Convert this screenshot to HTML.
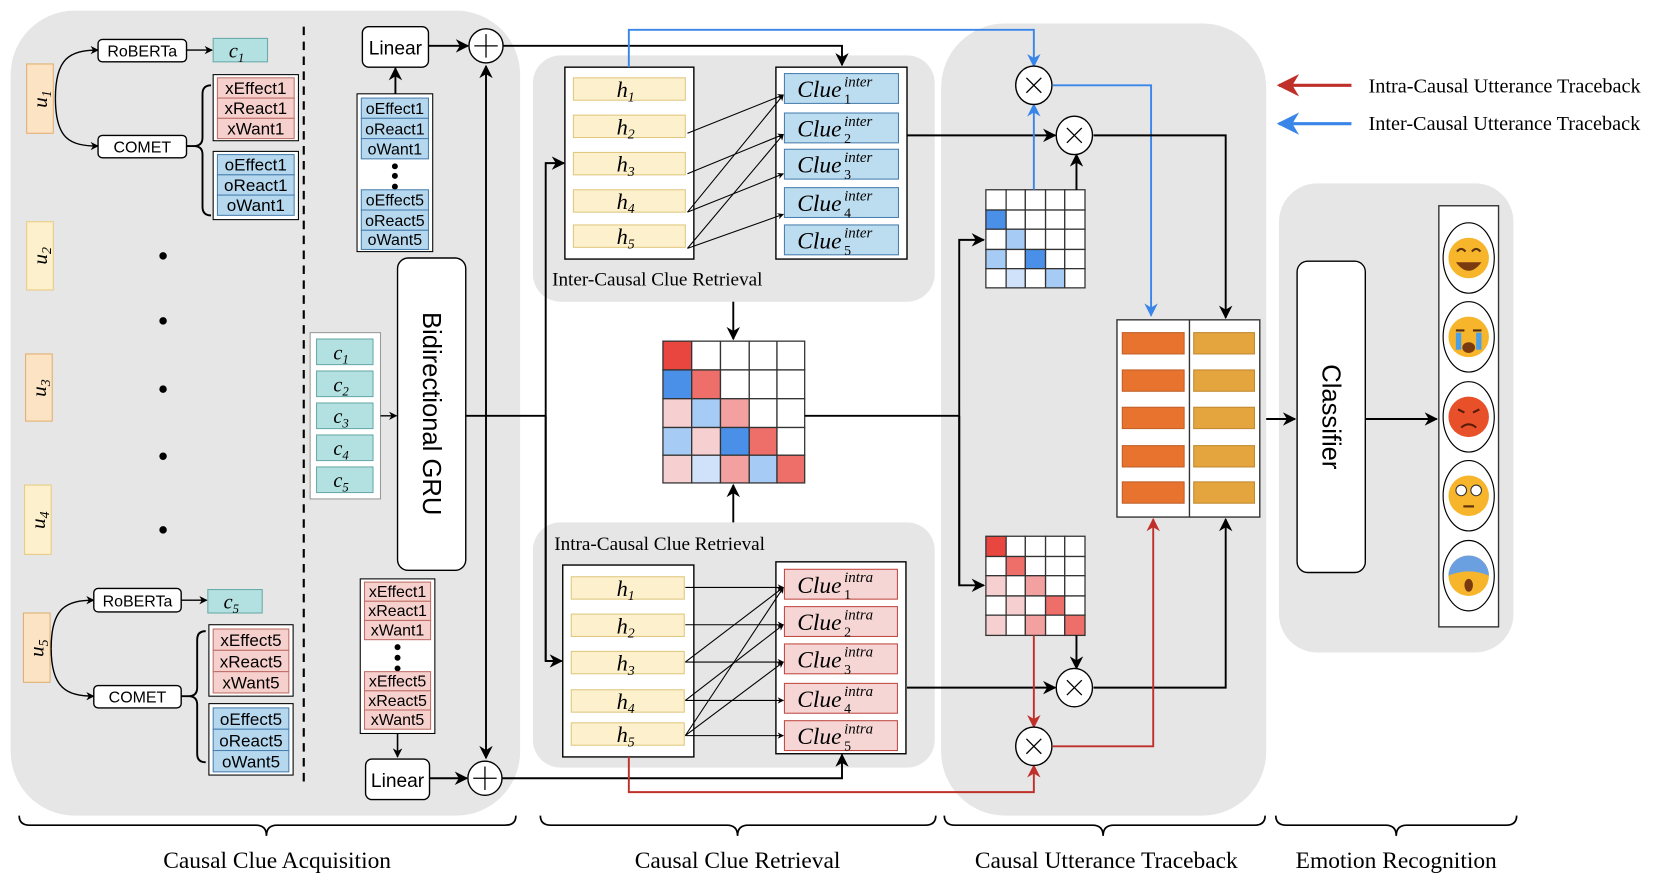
<!DOCTYPE html>
<html><head><meta charset="utf-8"><style>
html,body{margin:0;padding:0;background:#fff;}
svg{display:block;}
.s{font-family:"Liberation Sans",sans-serif;}
.r{font-family:"Liberation Serif",serif;}
</style></head><body>
<svg width="1668" height="887" viewBox="0 0 1565 832" preserveAspectRatio="none" xmlns="http://www.w3.org/2000/svg">
<defs>
<marker id="ak" viewBox="0 0 10 10" refX="9" refY="5" markerWidth="7" markerHeight="7" orient="auto-start-reverse"><path d="M0,0 L10,5 L0,10 L3,5 z" fill="#000"/></marker>
<marker id="ab" viewBox="0 0 10 10" refX="9" refY="5" markerWidth="7" markerHeight="7" orient="auto-start-reverse"><path d="M0,0 L10,5 L0,10 L3,5 z" fill="#3a86e8"/></marker>
<marker id="ar" viewBox="0 0 10 10" refX="9" refY="5" markerWidth="7" markerHeight="7" orient="auto-start-reverse"><path d="M0,0 L10,5 L0,10 L3,5 z" fill="#c0302a"/></marker>
<marker id="as" viewBox="0 0 10 10" refX="9" refY="5" markerWidth="6" markerHeight="6" orient="auto"><path d="M0,0 L10,5 L0,10 L3,5 z" fill="#000"/></marker>
</defs>

<rect x="10" y="10" width="478" height="755" rx="60" fill="#e6e6e6"/>
<rect x="883" y="22" width="305" height="743" rx="60" fill="#e6e6e6"/>
<rect x="500" y="52" width="377" height="231" rx="26" fill="#e6e6e6"/>
<rect x="500" y="490" width="377" height="230" rx="26" fill="#e6e6e6"/>
<rect x="1200" y="172" width="220" height="440" rx="36" fill="#e6e6e6"/>

<line x1="285" y1="25" x2="285" y2="735" stroke="#000" stroke-width="2" stroke-dasharray="8,6"/>

<g class="r" font-style="italic" font-size="20">
<rect x="25" y="60" width="25" height="65" fill="#fbe3c4" stroke="#e0b070"/>
<text transform="translate(44,93) rotate(-90)" text-anchor="middle">u<tspan font-size="13" dy="4">1</tspan></text>
<rect x="25" y="208" width="25" height="64" fill="#fdf0cc" stroke="#e8cc80"/>
<text transform="translate(44,240) rotate(-90)" text-anchor="middle">u<tspan font-size="13" dy="4">2</tspan></text>
<rect x="24" y="332" width="25" height="63" fill="#fbe3c4" stroke="#e0b070"/>
<text transform="translate(43,364) rotate(-90)" text-anchor="middle">u<tspan font-size="13" dy="4">3</tspan></text>
<rect x="23" y="455" width="25" height="65" fill="#fdf0cc" stroke="#e8cc80"/>
<text transform="translate(42,488) rotate(-90)" text-anchor="middle">u<tspan font-size="13" dy="4">4</tspan></text>
<rect x="22" y="575" width="25" height="65" fill="#fbe3c4" stroke="#e0b070"/>
<text transform="translate(41,608) rotate(-90)" text-anchor="middle">u<tspan font-size="13" dy="4">5</tspan></text>
</g>

<path d="M52,92 C52,55 65,47 92,47" fill="none" stroke="#000" stroke-width="1.3" marker-end="url(#as)"/>
<path d="M52,92 C52,130 65,137 92,137" fill="none" stroke="#000" stroke-width="1.3" marker-end="url(#as)"/>
<rect x="92" y="37" width="83" height="21" rx="4" fill="#fff" stroke="#000" stroke-width="1.3"/>
<text x="133.5" y="53" class="s" font-size="15" text-anchor="middle">RoBERTa</text>
<line x1="175" y1="47" x2="199" y2="47" stroke="#000" stroke-width="1.3" marker-end="url(#as)"/>
<rect x="200" y="36" width="51" height="22" fill="#b3e0e0" stroke="#6aaaaa"/>
<text x="222" y="54" class="r" font-style="italic" font-size="19" text-anchor="middle">c<tspan font-size="12" dy="4">1</tspan></text>
<rect x="92" y="127" width="83" height="21" rx="4" fill="#fff" stroke="#000" stroke-width="1.3"/>
<text x="133.5" y="143" class="s" font-size="15" text-anchor="middle">COMET</text>
<path d="M175,137 L182,137 Q190,137 190,129 L190,88 Q190,80 198,80 M182,137 Q190,137 190,145 L190,194 Q190,202 198,202" fill="none" stroke="#000" stroke-width="1.8"/>
<g class="s" font-size="16" text-anchor="middle">
<rect x="200" y="70" width="80" height="62" fill="#fff" stroke="#000"/>
<rect x="204" y="73" width="72" height="19" fill="#f6d0cc" stroke="#c0706a"/><text x="240" y="88">xEffect1</text>
<rect x="204" y="92" width="72" height="19" fill="#f6d0cc" stroke="#c0706a"/><text x="240" y="107">xReact1</text>
<rect x="204" y="111" width="72" height="19" fill="#f6d0cc" stroke="#c0706a"/><text x="240" y="126">xWant1</text>
<rect x="200" y="142" width="80" height="64" fill="#fff" stroke="#000"/>
<rect x="204" y="145" width="72" height="19" fill="#b6d8ef" stroke="#4a80b0"/><text x="240" y="160">oEffect1</text>
<rect x="204" y="164" width="72" height="19" fill="#b6d8ef" stroke="#4a80b0"/><text x="240" y="179">oReact1</text>
<rect x="204" y="183" width="72" height="19" fill="#b6d8ef" stroke="#4a80b0"/><text x="240" y="198">oWant1</text>
</g>

<g fill="#000"><circle cx="153" cy="240" r="3.5"/><circle cx="153" cy="301" r="3.5"/><circle cx="153" cy="365" r="3.5"/><circle cx="153" cy="428" r="3.5"/><circle cx="153" cy="497" r="3.5"/></g>

<path d="M48,608 C48,570 62,563 88,563" fill="none" stroke="#000" stroke-width="1.3" marker-end="url(#as)"/>
<path d="M48,608 C48,645 62,653 88,653" fill="none" stroke="#000" stroke-width="1.3" marker-end="url(#as)"/>
<rect x="88" y="552" width="82" height="22" rx="4" fill="#fff" stroke="#000" stroke-width="1.3"/>
<text x="129" y="569" class="s" font-size="15" text-anchor="middle">RoBERTa</text>
<line x1="170" y1="563" x2="194" y2="563" stroke="#000" stroke-width="1.3" marker-end="url(#as)"/>
<rect x="195" y="553" width="51" height="22" fill="#b3e0e0" stroke="#6aaaaa"/>
<text x="217" y="571" class="r" font-style="italic" font-size="19" text-anchor="middle">c<tspan font-size="12" dy="4">5</tspan></text>
<rect x="88" y="643" width="82" height="21" rx="4" fill="#fff" stroke="#000" stroke-width="1.3"/>
<text x="129" y="659" class="s" font-size="15" text-anchor="middle">COMET</text>
<path d="M170,653 L177,653 Q185,653 185,645 L185,600 Q185,592 193,592 M177,653 Q185,653 185,661 L185,707 Q185,715 193,715" fill="none" stroke="#000" stroke-width="1.8"/>
<g class="s" font-size="16" text-anchor="middle">
<rect x="196" y="586" width="79" height="67" fill="#fff" stroke="#000"/>
<rect x="200" y="590" width="71" height="20" fill="#f6d0cc" stroke="#c0706a"/><text x="235.5" y="606">xEffect5</text>
<rect x="200" y="610" width="71" height="20" fill="#f6d0cc" stroke="#c0706a"/><text x="235.5" y="626">xReact5</text>
<rect x="200" y="630" width="71" height="20" fill="#f6d0cc" stroke="#c0706a"/><text x="235.5" y="646">xWant5</text>
<rect x="196" y="660" width="79" height="67" fill="#fff" stroke="#000"/>
<rect x="200" y="664" width="71" height="20" fill="#b6d8ef" stroke="#4a80b0"/><text x="235.5" y="680">oEffect5</text>
<rect x="200" y="684" width="71" height="20" fill="#b6d8ef" stroke="#4a80b0"/><text x="235.5" y="700">oReact5</text>
<rect x="200" y="704" width="71" height="20" fill="#b6d8ef" stroke="#4a80b0"/><text x="235.5" y="720">oWant5</text>
</g>

<rect x="340" y="25" width="62" height="38" rx="6" fill="#fff" stroke="#000" stroke-width="1.3"/>
<text x="371" y="51" class="s" font-size="18" text-anchor="middle">Linear</text>
<line x1="402" y1="43" x2="439" y2="43" stroke="#000" stroke-width="1.8" marker-end="url(#ak)"/>
<circle cx="456" cy="43" r="16" fill="#fff" stroke="#000" stroke-width="1.3"/>
<path d="M445,43 H467 M456,32 V54" stroke="#000" stroke-width="1.2"/>
<path d="M472,43 H790 V61" fill="none" stroke="#000" stroke-width="1.8" marker-end="url(#ak)"/>
<line x1="371" y1="88" x2="371" y2="64" stroke="#000" stroke-width="1.8" marker-end="url(#ak)"/>
<g class="s" font-size="15" text-anchor="middle">
<rect x="335" y="88" width="71" height="148" fill="#fff" stroke="#000"/>
<rect x="339" y="92" width="63" height="19" fill="#b6d8ef" stroke="#4a80b0"/><text x="370.5" y="107">oEffect1</text>
<rect x="339" y="111" width="63" height="19" fill="#b6d8ef" stroke="#4a80b0"/><text x="370.5" y="126">oReact1</text>
<rect x="339" y="130" width="63" height="19" fill="#b6d8ef" stroke="#4a80b0"/><text x="370.5" y="145">oWant1</text>
<circle cx="370.5" cy="156" r="2.8"/><circle cx="370.5" cy="165" r="2.8"/><circle cx="370.5" cy="175" r="2.8"/>
<rect x="339" y="178" width="63" height="19" fill="#b6d8ef" stroke="#4a80b0"/><text x="370.5" y="193">oEffect5</text>
<rect x="339" y="197" width="63" height="19" fill="#b6d8ef" stroke="#4a80b0"/><text x="370.5" y="212">oReact5</text>
<rect x="339" y="216" width="63" height="18" fill="#b6d8ef" stroke="#4a80b0"/><text x="370.5" y="230">oWant5</text>
</g>

<rect x="291" y="312" width="66" height="156" fill="#fff" stroke="#999"/>
<g class="r" font-style="italic" font-size="19" text-anchor="middle">
<rect x="297" y="318" width="53" height="24" fill="#b3e0e0" stroke="#6aaaaa"/><text x="320" y="337">c<tspan font-size="12" dy="4">1</tspan></text>
<rect x="297" y="348" width="53" height="24" fill="#b3e0e0" stroke="#6aaaaa"/><text x="320" y="367">c<tspan font-size="12" dy="4">2</tspan></text>
<rect x="297" y="378" width="53" height="24" fill="#b3e0e0" stroke="#6aaaaa"/><text x="320" y="397">c<tspan font-size="12" dy="4">3</tspan></text>
<rect x="297" y="408" width="53" height="24" fill="#b3e0e0" stroke="#6aaaaa"/><text x="320" y="427">c<tspan font-size="12" dy="4">4</tspan></text>
<rect x="297" y="438" width="53" height="24" fill="#b3e0e0" stroke="#6aaaaa"/><text x="320" y="457">c<tspan font-size="12" dy="4">5</tspan></text>
</g>
<line x1="357" y1="390" x2="372" y2="390" stroke="#000" stroke-width="1.3" marker-end="url(#as)"/>
<rect x="373" y="242" width="64" height="293" rx="10" fill="#fff" stroke="#000" stroke-width="1.3"/>
<text transform="translate(397,388) rotate(90)" class="s" font-size="24" text-anchor="middle">Bidirectional GRU</text>

<g class="s" font-size="15" text-anchor="middle">
<rect x="338" y="543" width="70" height="145" fill="#fff" stroke="#000"/>
<rect x="342" y="546" width="62" height="18" fill="#f6d0cc" stroke="#c0706a"/><text x="373" y="560">xEffect1</text>
<rect x="342" y="564" width="62" height="18" fill="#f6d0cc" stroke="#c0706a"/><text x="373" y="578">xReact1</text>
<rect x="342" y="582" width="62" height="18" fill="#f6d0cc" stroke="#c0706a"/><text x="373" y="596">xWant1</text>
<circle cx="373" cy="607" r="2.8"/><circle cx="373" cy="617" r="2.8"/><circle cx="373" cy="627" r="2.8"/>
<rect x="342" y="630" width="62" height="18" fill="#f6d0cc" stroke="#c0706a"/><text x="373" y="644">xEffect5</text>
<rect x="342" y="648" width="62" height="18" fill="#f6d0cc" stroke="#c0706a"/><text x="373" y="662">xReact5</text>
<rect x="342" y="666" width="62" height="18" fill="#f6d0cc" stroke="#c0706a"/><text x="373" y="680">xWant5</text>
</g>
<line x1="373" y1="688" x2="373" y2="710" stroke="#000" stroke-width="1.5" marker-end="url(#as)"/>
<rect x="343" y="712" width="60" height="38" rx="6" fill="#fff" stroke="#000" stroke-width="1.3"/>
<text x="373" y="738" class="s" font-size="18" text-anchor="middle">Linear</text>
<line x1="403" y1="730" x2="438" y2="730" stroke="#000" stroke-width="1.8" marker-end="url(#ak)"/>
<circle cx="455" cy="730" r="16" fill="#fff" stroke="#000" stroke-width="1.3"/>
<path d="M444,730 H466 M455,719 V741" stroke="#000" stroke-width="1.2"/>
<line x1="456" y1="62" x2="456" y2="711" stroke="#000" stroke-width="1.8" marker-start="url(#ak)" marker-end="url(#ak)"/>
<path d="M471,730 H790 V708" fill="none" stroke="#000" stroke-width="1.8" marker-end="url(#ak)"/>

<path d="M437,390 H512" stroke="#000" stroke-width="1.8" fill="none"/>
<path d="M512,620 V153 H529" stroke="#000" stroke-width="1.8" fill="none" marker-end="url(#ak)"/>
<path d="M512,390 V620 H527" stroke="#000" stroke-width="1.8" fill="none" marker-end="url(#ak)"/>

<rect x="530" y="63" width="121" height="180" fill="#fff" stroke="#000" stroke-width="1.3"/>
<g class="r" font-style="italic" font-size="21" text-anchor="middle">
<rect x="538" y="73" width="105" height="21" fill="#fdf0cc" stroke="#e0c880"/><text x="587" y="91">h<tspan font-size="13" dy="4">1</tspan></text>
<rect x="538" y="108" width="105" height="21" fill="#fdf0cc" stroke="#e0c880"/><text x="587" y="126">h<tspan font-size="13" dy="4">2</tspan></text>
<rect x="538" y="143" width="105" height="21" fill="#fdf0cc" stroke="#e0c880"/><text x="587" y="161">h<tspan font-size="13" dy="4">3</tspan></text>
<rect x="538" y="178" width="105" height="21" fill="#fdf0cc" stroke="#e0c880"/><text x="587" y="196">h<tspan font-size="13" dy="4">4</tspan></text>
<rect x="538" y="211" width="105" height="21" fill="#fdf0cc" stroke="#e0c880"/><text x="587" y="229">h<tspan font-size="13" dy="4">5</tspan></text>
</g>
<rect x="728" y="63" width="123" height="180" fill="#fff" stroke="#000" stroke-width="1.3"/>
<g fill="#bcdcef" stroke="#4a80b0">
<rect x="736" y="69" width="107" height="28"/><rect x="736" y="106" width="107" height="28"/><rect x="736" y="140" width="107" height="28"/><rect x="736" y="176" width="107" height="28"/><rect x="736" y="211" width="107" height="28"/>
</g>
<g class="r" font-style="italic" font-size="22">
<text x="748" y="91">Clue</text><text x="748" y="128">Clue</text><text x="748" y="162">Clue</text><text x="748" y="198">Clue</text><text x="748" y="233">Clue</text>
</g>
<g class="r" font-style="italic" font-size="14">
<text x="792" y="81">inter</text><text x="792" y="118">inter</text><text x="792" y="152">inter</text><text x="792" y="188">inter</text><text x="792" y="223">inter</text>
</g>
<g class="r" font-size="13">
<text x="792" y="97">1</text><text x="792" y="134">2</text><text x="792" y="168">3</text><text x="792" y="204">4</text><text x="792" y="239">5</text>
</g>
<g stroke="#000" stroke-width="1" marker-end="url(#as)">
<line x1="645" y1="125" x2="735" y2="89"/>
<line x1="645" y1="163" x2="735" y2="126"/>
<line x1="645" y1="199" x2="735" y2="89"/>
<line x1="645" y1="199" x2="735" y2="163"/>
<line x1="645" y1="233" x2="735" y2="126"/>
<line x1="645" y1="233" x2="735" y2="201"/>
</g>
<text x="518" y="268" class="r" font-size="18">Inter-Causal Clue Retrieval</text>

<text x="520" y="516" class="r" font-size="18">Intra-Causal Clue Retrieval</text>
<rect x="528" y="530" width="123" height="180" fill="#fff" stroke="#000" stroke-width="1.3"/>
<g class="r" font-style="italic" font-size="21" text-anchor="middle">
<rect x="536" y="541" width="106" height="21" fill="#fdf0cc" stroke="#e0c880"/><text x="587" y="559">h<tspan font-size="13" dy="4">1</tspan></text>
<rect x="536" y="576" width="106" height="21" fill="#fdf0cc" stroke="#e0c880"/><text x="587" y="594">h<tspan font-size="13" dy="4">2</tspan></text>
<rect x="536" y="611" width="106" height="21" fill="#fdf0cc" stroke="#e0c880"/><text x="587" y="629">h<tspan font-size="13" dy="4">3</tspan></text>
<rect x="536" y="647" width="106" height="21" fill="#fdf0cc" stroke="#e0c880"/><text x="587" y="665">h<tspan font-size="13" dy="4">4</tspan></text>
<rect x="536" y="678" width="106" height="21" fill="#fdf0cc" stroke="#e0c880"/><text x="587" y="696">h<tspan font-size="13" dy="4">5</tspan></text>
</g>
<rect x="728" y="527" width="122" height="180" fill="#fff" stroke="#000" stroke-width="1.3"/>
<g fill="#f6d6d4" stroke="#c04a44">
<rect x="736" y="534" width="106" height="28"/><rect x="736" y="569" width="106" height="28"/><rect x="736" y="604" width="106" height="28"/><rect x="736" y="641" width="106" height="28"/><rect x="736" y="676" width="106" height="28"/>
</g>
<g class="r" font-style="italic" font-size="22">
<text x="748" y="556">Clue</text><text x="748" y="591">Clue</text><text x="748" y="626">Clue</text><text x="748" y="663">Clue</text><text x="748" y="698">Clue</text>
</g>
<g class="r" font-style="italic" font-size="14">
<text x="792" y="546">intra</text><text x="792" y="581">intra</text><text x="792" y="616">intra</text><text x="792" y="653">intra</text><text x="792" y="688">intra</text>
</g>
<g class="r" font-size="13">
<text x="792" y="562">1</text><text x="792" y="597">2</text><text x="792" y="632">3</text><text x="792" y="669">4</text><text x="792" y="704">5</text>
</g>
<g stroke="#000" stroke-width="1" marker-end="url(#as)">
<line x1="643" y1="551" x2="735" y2="551"/>
<line x1="643" y1="586" x2="735" y2="586"/>
<line x1="643" y1="621" x2="735" y2="621"/>
<line x1="643" y1="657" x2="735" y2="657"/>
<line x1="643" y1="690" x2="735" y2="690"/>
<line x1="643" y1="621" x2="735" y2="551"/>
<line x1="643" y1="657" x2="735" y2="586"/>
<line x1="643" y1="690" x2="735" y2="551"/>
<line x1="643" y1="690" x2="735" y2="621"/>
</g>

<line x1="688" y1="283" x2="688" y2="318" stroke="#000" stroke-width="1.8" marker-end="url(#ak)"/>
<line x1="688" y1="490" x2="688" y2="455" stroke="#000" stroke-width="1.8" marker-end="url(#ak)"/>
<g stroke="#333" stroke-width="1.2">
<rect x="622" y="320" width="27" height="27" fill="#e8463e"/><rect x="649" y="320" width="27" height="27" fill="#fff"/><rect x="676" y="320" width="27" height="27" fill="#fff"/><rect x="703" y="320" width="26" height="27" fill="#fff"/><rect x="729" y="320" width="26" height="27" fill="#fff"/>
<rect x="622" y="347" width="27" height="27" fill="#4a90e8"/><rect x="649" y="347" width="27" height="27" fill="#ee6e6a"/><rect x="676" y="347" width="27" height="27" fill="#fff"/><rect x="703" y="347" width="26" height="27" fill="#fff"/><rect x="729" y="347" width="26" height="27" fill="#fff"/>
<rect x="622" y="374" width="27" height="27" fill="#f6cfd0"/><rect x="649" y="374" width="27" height="27" fill="#a6ccf5"/><rect x="676" y="374" width="27" height="27" fill="#f2a0a0"/><rect x="703" y="374" width="26" height="27" fill="#fff"/><rect x="729" y="374" width="26" height="27" fill="#fff"/>
<rect x="622" y="401" width="27" height="26" fill="#a6ccf5"/><rect x="649" y="401" width="27" height="26" fill="#f6cfd0"/><rect x="676" y="401" width="27" height="26" fill="#4a90e8"/><rect x="703" y="401" width="26" height="26" fill="#ee6e6a"/><rect x="729" y="401" width="26" height="26" fill="#fff"/>
<rect x="622" y="427" width="27" height="26" fill="#f6cfd0"/><rect x="649" y="427" width="27" height="26" fill="#cfe2fa"/><rect x="676" y="427" width="27" height="26" fill="#f2a0a0"/><rect x="703" y="427" width="26" height="26" fill="#a6ccf5"/><rect x="729" y="427" width="26" height="26" fill="#ee6e6a"/>
</g>
<line x1="755" y1="390" x2="900" y2="390" stroke="#000" stroke-width="1.8"/>
<path d="M900,549 V225 H923" fill="none" stroke="#000" stroke-width="1.8" marker-end="url(#ak)"/>
<path d="M900,390 V549 H923" fill="none" stroke="#000" stroke-width="1.8" marker-end="url(#ak)"/>

<path d="M590,63 V28 H970 V62" fill="none" stroke="#3a86e8" stroke-width="1.8" marker-end="url(#ab)"/>
<path d="M590,710 V743 H970 V718" fill="none" stroke="#c0302a" stroke-width="1.8" marker-end="url(#ar)"/>

<line x1="851" y1="127" x2="990" y2="127" stroke="#000" stroke-width="1.8" marker-end="url(#ak)"/>
<line x1="851" y1="645" x2="990" y2="645" stroke="#000" stroke-width="1.8" marker-end="url(#ak)"/>
<g stroke="#333" stroke-width="1.2">
<rect x="925" y="178" width="19" height="19" fill="#fff"/><rect x="944" y="178" width="18" height="19" fill="#fff"/><rect x="962" y="178" width="19" height="19" fill="#fff"/><rect x="981" y="178" width="18" height="19" fill="#fff"/><rect x="999" y="178" width="19" height="19" fill="#fff"/>
<rect x="925" y="197" width="19" height="18" fill="#4a90e8"/><rect x="944" y="197" width="18" height="18" fill="#fff"/><rect x="962" y="197" width="19" height="18" fill="#fff"/><rect x="981" y="197" width="18" height="18" fill="#fff"/><rect x="999" y="197" width="19" height="18" fill="#fff"/>
<rect x="925" y="215" width="19" height="19" fill="#fff"/><rect x="944" y="215" width="18" height="19" fill="#a6ccf5"/><rect x="962" y="215" width="19" height="19" fill="#fff"/><rect x="981" y="215" width="18" height="19" fill="#fff"/><rect x="999" y="215" width="19" height="19" fill="#fff"/>
<rect x="925" y="234" width="19" height="18" fill="#a6ccf5"/><rect x="944" y="234" width="18" height="18" fill="#fff"/><rect x="962" y="234" width="19" height="18" fill="#4a90e8"/><rect x="981" y="234" width="18" height="18" fill="#fff"/><rect x="999" y="234" width="19" height="18" fill="#fff"/>
<rect x="925" y="252" width="19" height="18" fill="#fff"/><rect x="944" y="252" width="18" height="18" fill="#cfe2fa"/><rect x="962" y="252" width="19" height="18" fill="#fff"/><rect x="981" y="252" width="18" height="18" fill="#a6ccf5"/><rect x="999" y="252" width="19" height="18" fill="#fff"/>
</g>
<g stroke="#333" stroke-width="1.2">
<rect x="925" y="503" width="19" height="19" fill="#e8463e"/><rect x="944" y="503" width="18" height="19" fill="#fff"/><rect x="962" y="503" width="19" height="19" fill="#fff"/><rect x="981" y="503" width="18" height="19" fill="#fff"/><rect x="999" y="503" width="19" height="19" fill="#fff"/>
<rect x="925" y="522" width="19" height="18" fill="#fff"/><rect x="944" y="522" width="18" height="18" fill="#ee6e6a"/><rect x="962" y="522" width="19" height="18" fill="#fff"/><rect x="981" y="522" width="18" height="18" fill="#fff"/><rect x="999" y="522" width="19" height="18" fill="#fff"/>
<rect x="925" y="540" width="19" height="19" fill="#f6cfd0"/><rect x="944" y="540" width="18" height="19" fill="#fff"/><rect x="962" y="540" width="19" height="19" fill="#f2a0a0"/><rect x="981" y="540" width="18" height="19" fill="#fff"/><rect x="999" y="540" width="19" height="19" fill="#fff"/>
<rect x="925" y="559" width="19" height="18" fill="#fff"/><rect x="944" y="559" width="18" height="18" fill="#f6cfd0"/><rect x="962" y="559" width="19" height="18" fill="#fff"/><rect x="981" y="559" width="18" height="18" fill="#ee6e6a"/><rect x="999" y="559" width="19" height="18" fill="#fff"/>
<rect x="925" y="577" width="19" height="19" fill="#f6cfd0"/><rect x="944" y="577" width="18" height="19" fill="#fff"/><rect x="962" y="577" width="19" height="19" fill="#f2a0a0"/><rect x="981" y="577" width="18" height="19" fill="#fff"/><rect x="999" y="577" width="19" height="19" fill="#ee6e6a"/>
</g>
<line x1="970" y1="178" x2="970" y2="98" stroke="#3a86e8" stroke-width="1.8" marker-end="url(#ab)"/>
<line x1="1010" y1="178" x2="1010" y2="145" stroke="#000" stroke-width="1.8" marker-end="url(#ak)"/>
<path d="M988,80 H1080 V296" fill="none" stroke="#3a86e8" stroke-width="1.8" marker-end="url(#ab)"/>
<path d="M1026,127 H1150 V298" fill="none" stroke="#000" stroke-width="1.8" marker-end="url(#ak)"/>
<line x1="1010" y1="596" x2="1010" y2="627" stroke="#000" stroke-width="1.8" marker-end="url(#ak)"/>
<line x1="970" y1="596" x2="970" y2="682" stroke="#c0302a" stroke-width="1.8" marker-end="url(#ar)"/>
<path d="M1026,645 H1150 V487" fill="none" stroke="#000" stroke-width="1.8" marker-end="url(#ak)"/>
<path d="M988,700 H1082 V487" fill="none" stroke="#c0302a" stroke-width="1.8" marker-end="url(#ar)"/>
<g fill="#fff" stroke="#000" stroke-width="1.3">
<ellipse cx="970" cy="80" rx="17" ry="18"/><ellipse cx="1008" cy="127" rx="17" ry="18"/><ellipse cx="1008" cy="645" rx="17" ry="18"/><ellipse cx="970" cy="700" rx="17" ry="18"/>
</g>
<g stroke="#000" stroke-width="1.2">
<path d="M963,73 L977,87 M977,73 L963,87"/><path d="M1001,120 L1015,134 M1015,120 L1001,134"/>
<path d="M1001,638 L1015,652 M1015,638 L1001,652"/><path d="M963,693 L977,707 M977,693 L963,707"/>
</g>

<rect x="1048" y="300" width="134" height="185" fill="#fff" stroke="#333" stroke-width="1.3"/>
<line x1="1116" y1="300" x2="1116" y2="485" stroke="#333" stroke-width="1.3"/>
<g stroke-width="1">
<rect x="1053" y="312" width="58" height="20" fill="#e8732e" stroke="#c0602a"/><rect x="1120" y="312" width="57" height="20" fill="#e5a53e" stroke="#c08a30"/>
<rect x="1053" y="347" width="58" height="20" fill="#e8732e" stroke="#c0602a"/><rect x="1120" y="347" width="57" height="20" fill="#e5a53e" stroke="#c08a30"/>
<rect x="1053" y="382" width="58" height="20" fill="#e8732e" stroke="#c0602a"/><rect x="1120" y="382" width="57" height="20" fill="#e5a53e" stroke="#c08a30"/>
<rect x="1053" y="418" width="58" height="20" fill="#e8732e" stroke="#c0602a"/><rect x="1120" y="418" width="57" height="20" fill="#e5a53e" stroke="#c08a30"/>
<rect x="1053" y="452" width="58" height="20" fill="#e8732e" stroke="#c0602a"/><rect x="1120" y="452" width="57" height="20" fill="#e5a53e" stroke="#c08a30"/>
</g>
<line x1="1188" y1="393" x2="1215" y2="393" stroke="#000" stroke-width="1.8" marker-end="url(#ak)"/>

<rect x="1217" y="245" width="64" height="292" rx="10" fill="#fff" stroke="#000" stroke-width="1.3"/>
<text transform="translate(1241,391) rotate(90)" class="s" font-size="24" text-anchor="middle">Classifier</text>
<line x1="1281" y1="393" x2="1348" y2="393" stroke="#000" stroke-width="1.8" marker-end="url(#ak)"/>
<rect x="1350" y="193" width="56" height="395" fill="#fff" stroke="#333" stroke-width="1.3"/>
<g stroke="#000" stroke-width="1.1" fill="#fff">
<ellipse cx="1378" cy="242" rx="24" ry="33"/>
<ellipse cx="1378" cy="316" rx="24" ry="33"/>
<ellipse cx="1378" cy="391" rx="24" ry="33"/>
<ellipse cx="1378" cy="465" rx="24" ry="33"/>
<ellipse cx="1378" cy="540" rx="24" ry="33"/>
</g>
<g>
<circle cx="1378" cy="242" r="19" fill="#f7b52c"/>
<path d="M1366,246 Q1378,262 1390,246 Z" fill="#7a3a10"/>
<path d="M1367,236 q4,-5 8,0 M1381,236 q4,-5 8,0" stroke="#5a3010" stroke-width="2" fill="none"/>
<circle cx="1378" cy="316" r="19" fill="#f7b52c"/>
<path d="M1366,310 h8 M1382,310 h8" stroke="#5a3010" stroke-width="2"/>
<rect x="1366" y="312" width="5" height="16" fill="#4aa0e8"/><rect x="1385" y="312" width="5" height="16" fill="#4aa0e8"/>
<ellipse cx="1378" cy="326" rx="6" ry="5" fill="#7a3a10"/>
<circle cx="1378" cy="391" r="19" fill="#e8502a"/>
<path d="M1368,384 l6,3 M1388,384 l-6,3" stroke="#5a1a08" stroke-width="2"/>
<path d="M1371,401 q7,-6 14,0" stroke="#5a1a08" stroke-width="2" fill="none"/>
<circle cx="1378" cy="465" r="19" fill="#f7b52c"/>
<circle cx="1371" cy="460" r="5" fill="#fff" stroke="#333"/><circle cx="1385" cy="460" r="5" fill="#fff" stroke="#333"/>
<path d="M1373,475 h10" stroke="#5a3010" stroke-width="2"/>
<circle cx="1378" cy="540" r="19" fill="#f7b52c"/>
<path d="M1359,540 a19,19 0 0 1 38,0 q-19,-8 -38,0z" fill="#6aa0e0"/>
<ellipse cx="1378" cy="549" rx="4" ry="6" fill="#7a3a10"/>
</g>

<line x1="1268" y1="80" x2="1200" y2="80" stroke="#c0302a" stroke-width="3" marker-end="url(#ar)"/>
<text x="1284" y="87" class="r" font-size="19">Intra-Causal Utterance Traceback</text>
<line x1="1268" y1="116" x2="1200" y2="116" stroke="#3a86e8" stroke-width="3" marker-end="url(#ab)"/>
<text x="1284" y="122" class="r" font-size="19">Inter-Causal Utterance Traceback</text>

<g fill="none" stroke="#000" stroke-width="1.6">
<path d="M18,765 Q18,774 28,774 L240,774 Q250,774 250,784 Q250,774 260,774 L474,774 Q484,774 484,765"/>
<path d="M507,765 Q507,774 517,774 L682,774 Q692,774 692,784 Q692,774 702,774 L868,774 Q878,774 878,765"/>
<path d="M886,765 Q886,774 896,774 L1025,774 Q1035,774 1035,784 Q1035,774 1045,774 L1177,774 Q1187,774 1187,765"/>
<path d="M1197,765 Q1197,774 1207,774 L1300,774 Q1310,774 1310,784 Q1310,774 1320,774 L1413,774 Q1423,774 1423,765"/>
</g>
<g class="r" font-size="22" text-anchor="middle">
<text x="260" y="814">Causal Clue Acquisition</text>
<text x="692" y="814">Causal Clue Retrieval</text>
<text x="1038" y="814">Causal Utterance Traceback</text>
<text x="1310" y="814">Emotion Recognition</text>
</g>
</svg>
</body></html>
